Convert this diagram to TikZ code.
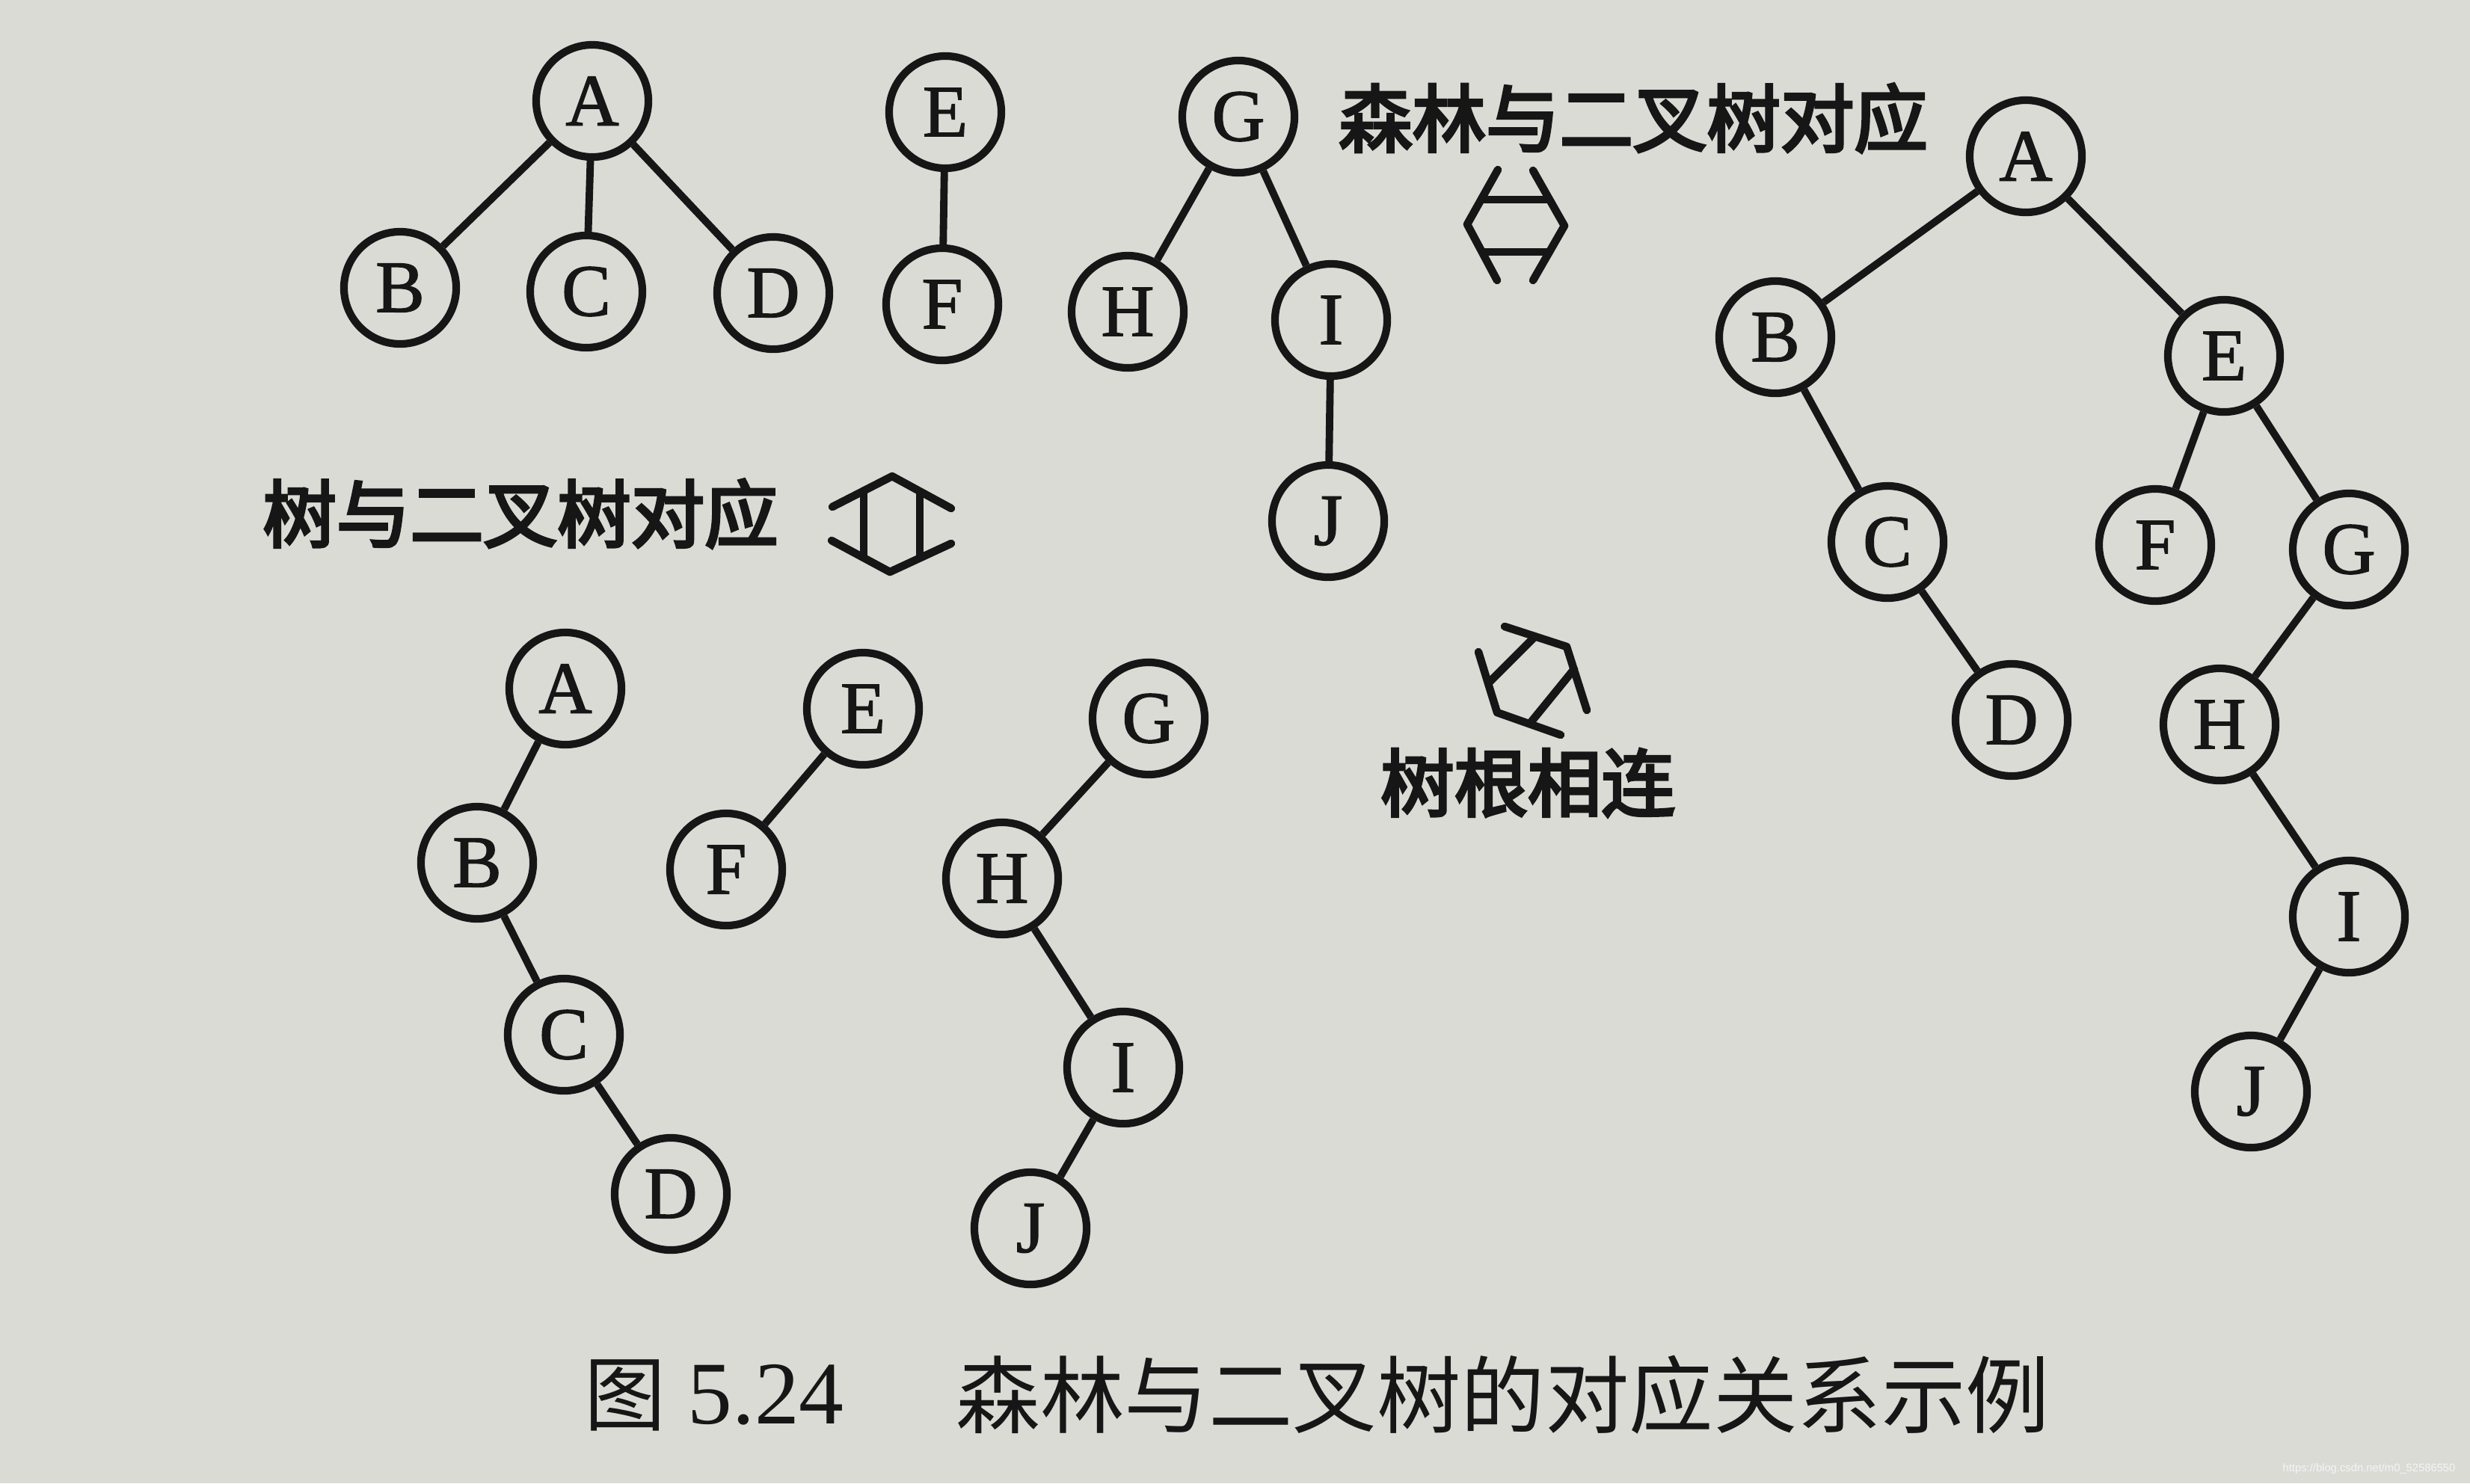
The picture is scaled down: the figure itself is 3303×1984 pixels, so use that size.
\documentclass[tikz,border=0pt]{standalone}
\usepackage{fontspec}
\setmainfont[FakeBold=1.5]{Liberation Serif}
\newfontfamily\capnum{Liberation Serif}
\newfontfamily\cjk{Noto Sans CJK SC}
\newfontfamily\cjkm[FakeBold=4]{Noto Sans CJK SC}
\newfontfamily\wmfont{Liberation Sans}
\definecolor{paper}{RGB}{218,219,213}
\definecolor{ink}{RGB}{22,22,22}
\begin{document}
\begin{tikzpicture}[x=0.01cm,y=-0.01cm,
  tn/.style={circle,draw=ink,line width=2.9pt,minimum size=1.5cm,inner sep=0pt,
    font=\fontsize{28}{28}\selectfont,text=ink},
  edge/.style={draw=ink,line width=2.8pt},
  sym/.style={draw=ink,line width=3pt,line cap=round,line join=round},
  lbl/.style={font=\cjkm\fontsize{28}{28}\selectfont,text=ink,inner sep=0pt}]
\fill[paper] (0,0) rectangle (3303,1984);
\useasboundingbox (0,0) rectangle (3303,1984);
% top-left forest
\node[tn] (a1) at (792,135) {A};
\node[tn] (b1) at (535,385) {B};
\node[tn] (c1) at (784,390) {C};
\node[tn] (d1) at (1034,392) {D};
\node[tn] (e1) at (1264,150) {E};
\node[tn] (f1) at (1260,407) {F};
\node[tn] (g1) at (1656,156) {G};
\node[tn] (h1) at (1508,417) {H};
\node[tn] (i1) at (1780,428) {I};
\node[tn] (j1) at (1776,697) {J};
\draw[edge] (a1)--(b1) (a1)--(c1) (a1)--(d1) (e1)--(f1) (g1)--(h1) (g1)--(i1) (i1)--(j1);
% bottom-left binary trees
\node[tn] (a2) at (756,921) {A};
\node[tn] (b2) at (638,1154) {B};
\node[tn] (c2) at (754,1384) {C};
\node[tn] (d2) at (897,1597) {D};
\node[tn] (e2) at (1154,948) {E};
\node[tn] (f2) at (971,1163) {F};
\node[tn] (g2) at (1536,961) {G};
\node[tn] (h2) at (1340,1175) {H};
\node[tn] (i2) at (1502,1428) {I};
\node[tn] (j2) at (1378,1643) {J};
\draw[edge] (a2)--(b2) (b2)--(c2) (c2)--(d2) (e2)--(f2) (g2)--(h2) (h2)--(i2) (i2)--(j2);
% right binary tree
\node[tn] (a3) at (2709,209) {A};
\node[tn] (b3) at (2374,451) {B};
\node[tn] (c3) at (2524,725) {C};
\node[tn] (d3) at (2690,963) {D};
\node[tn] (e3) at (2974,476) {E};
\node[tn] (f3) at (2882,729) {F};
\node[tn] (g3) at (3141,735) {G};
\node[tn] (h3) at (2968,969) {H};
\node[tn] (i3) at (3141,1226) {I};
\node[tn] (j3) at (3010,1460) {J};
\draw[edge] (a3)--(b3) (b3)--(c3) (c3)--(d3) (a3)--(e3) (e3)--(f3) (e3)--(g3) (g3)--(h3) (h3)--(i3) (i3)--(j3);
% labels
\node[lbl] (l1) at (2184,158) {森林与二叉树对应};
\node[lbl] (l2) at (696,687) {树与二叉树对应};
\node[lbl] (l3) at (2043,1047) {树根相连};
% symbol 1 (vertical double arrow)
\draw[sym] (1113,678)--(1193,637)--(1272,680);
\draw[sym] (1112,723)--(1190,765)--(1272,727);
\draw[sym] (1155,657)--(1155,746) (1230,659)--(1230,746);
% symbol 2 (horizontal double arrow)
\draw[sym] (2003,227)--(1962,300)--(2002,375);
\draw[sym] (2050,228)--(2092,302)--(2050,375);
\draw[sym] (1983,267)--(2071,267) (1985,337)--(2072,337);
% symbol 3 (slanted double arrow)
\draw[sym] (2012,838)--(2095,865)--(2122,950);
\draw[sym] (1977,872)--(2002,953)--(2087,983);
\draw[sym] (2052,852)--(1992,912) (2105,895)--(2048,965);
% caption
\node[font=\cjk\fontsize{31}{31}\selectfont,text=ink] (cap1) at (836,1866) {图};
\node[font=\capnum\fontsize{34}{34}\selectfont,text=ink] (cap2) at (1024,1866) {5.24};
\node[font=\cjk\fontsize{32}{32}\selectfont,text=ink] (cap3) at (2010,1866) {森林与二叉树的对应关系示例};
\node[font=\wmfont\fontsize{4.2}{4.2}\selectfont,text=white!92!gray] (wm) at (3168,1965) {https://blog.csdn.net/m0\_52586550};
\end{tikzpicture}
\end{document}
